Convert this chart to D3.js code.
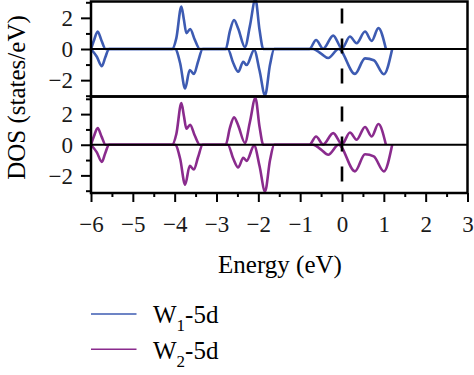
<!DOCTYPE html>
<html><head><meta charset="utf-8">
<script src="https://cdn.jsdelivr.net/npm/d3@7"></script>
<style>body{margin:0;background:#fff;}</style>
</head><body>
<svg id="chart" width="474" height="375"></svg>
<script>
// ---- data ----
const energyTicks = [-6, -5, -4, -3, -2, -1, 0, 1, 2, 3];
const energyMinorTicks = [-5.5, -4.5, -3.5, -2.5, -1.5, -0.5, 0.5, 1.5, 2.5];
const dosTicks = [-2, 0, 2];
const dosMinorTicks = [-3, -1, 1, 3];
const seriesNames = ["W1", "W2"];
const xTitle = "Energy (eV)";
const yTitle = "DOS (states/eV)";

// [energy (eV), DOS (states/eV)] -- spin up / spin down
const w1Up = [[-6.0,0],[-5.93,0.55],[-5.84,1.12],[-5.75,0.55],[-5.65,0],
  [-4.06,0],[-3.96,0.7],[-3.84,2.73],[-3.78,1.9],[-3.72,1.02],[-3.63,1.28],[-3.52,0.6],[-3.4,0],
  [-2.78,0],[-2.68,1.15],[-2.58,1.86],[-2.48,1.3],[-2.32,0.12],[-2.2,1.5],[-2.07,3.2],[-1.97,1.2],[-1.88,0],
  [-0.78,0],[-0.62,0.58],[-0.45,0.02],[-0.21,0.86],[0.0,0.03],[0.19,0.8],[0.35,0.37],[0.55,1.12],[0.71,0.52],[0.87,1.34],[1.05,0]];
const w1Down = [[-6.0,0],[-5.86,-0.5],[-5.74,-1.1],[-5.66,-0.55],[-5.57,0],
  [-3.99,0],[-3.87,-0.9],[-3.75,-2.54],[-3.64,-1.35],[-3.54,-1.61],[-3.44,-0.8],[-3.33,0],
  [-2.73,0],[-2.6,-0.9],[-2.48,-1.46],[-2.36,-0.82],[-2.28,-1.03],[-2.1,-0.06],[-1.97,-1.4],[-1.84,-2.97],[-1.72,-1.0],[-1.62,0],
  [-0.69,0],[-0.5,-0.3],[-0.33,-0.58],[-0.08,0],[0.31,-1.6],[0.55,-0.6],[0.76,-0.72],[1.0,-1.62],[1.2,0]];
const w2Up = [[-6.0,0],[-5.93,0.55],[-5.84,1.09],[-5.75,0.55],[-5.65,0],
  [-4.06,0],[-3.96,0.7],[-3.84,2.72],[-3.78,1.9],[-3.72,1.05],[-3.63,1.3],[-3.52,0.6],[-3.4,0],
  [-2.78,0],[-2.68,1.1],[-2.58,1.79],[-2.48,1.25],[-2.32,0.12],[-2.2,1.5],[-2.07,3.05],[-1.97,1.15],[-1.88,0],
  [-0.78,0],[-0.62,0.54],[-0.45,0.02],[-0.21,0.76],[0.0,0.03],[0.19,0.8],[0.35,0.33],[0.55,1.16],[0.71,0.54],[0.87,1.35],[1.05,0]];
const w2Down = [[-6.0,0],[-5.86,-0.5],[-5.74,-1.12],[-5.66,-0.55],[-5.57,0],
  [-3.99,0],[-3.87,-0.9],[-3.75,-2.61],[-3.64,-1.38],[-3.54,-1.62],[-3.44,-0.8],[-3.33,0],
  [-2.73,0],[-2.6,-0.9],[-2.48,-1.48],[-2.36,-0.85],[-2.28,-1.05],[-2.1,-0.06],[-1.97,-1.4],[-1.84,-3.05],[-1.72,-1.0],[-1.62,0],
  [-0.69,0],[-0.5,-0.32],[-0.33,-0.65],[-0.08,0],[0.31,-1.74],[0.55,-0.62],[0.76,-0.76],[1.0,-1.74],[1.2,0]];

const colors = ["#3d5bb2", "#8a2b8d"];

// ---- layout ----
const FONT = '"Times New Roman"';
const svg = d3.select("#chart");
const left = 91, right = 467.5;
const panels = [
  {name: seriesNames[0], up: w1Up, down: w1Down, color: colors[0], top: 1.5, bottom: 96.5, dom: 3.05},
  {name: seriesNames[1], up: w2Up, down: w2Down, color: colors[1], top: 96.5, bottom: 193, dom: 3.15}
];
const x = d3.scaleLinear().domain([-6, 3]).range([left, right]);
const fmt = d3.format("d");

function serif(sel, size) {
  return sel.attr("font-size", size).style("font-family", FONT);
}

panels.forEach((p, i) => {
  const y = d3.scaleLinear().domain([-p.dom, p.dom]).range([p.bottom, p.top]);
  const g = svg.append("g");
  const line = d3.line().x(d => x(d[0])).y(d => y(d[1])).curve(d3.curveMonotoneX);

  [p.up, p.down].forEach(s => {
    g.append("path").datum(s).attr("d", line)
      .attr("fill", "none").attr("stroke", p.color)
      .attr("stroke-width", 2.6).attr("stroke-linejoin", "round");
  });

  g.append("line").attr("x1", x(-6)).attr("x2", x(3)).attr("y1", y(0)).attr("y2", y(0))
    .attr("stroke", "#000").attr("stroke-width", 2.2);

  g.append("line").attr("x1", x(0)).attr("x2", x(0)).attr("y1", p.top).attr("y2", p.bottom)
    .attr("stroke", "#000").attr("stroke-width", 2.6)
    .attr("stroke-dasharray", "15,15").attr("stroke-dashoffset", i === 0 ? 23 : 20);

  const ya = g.append("g").attr("transform", `translate(${left},0)`)
    .call(d3.axisLeft(y).tickValues(dosTicks).tickSize(10).tickPadding(8).tickFormat(fmt));
  ya.attr("font-family", null).attr("font-size", null);
  ya.select(".domain").remove();
  ya.selectAll(".tick line").attr("stroke", "#000").attr("stroke-width", 2);
  serif(ya.selectAll(".tick text").attr("dy", "0.34em").attr("fill", "#1a1a1a"), 23);

  const ym = g.append("g").attr("transform", `translate(${left},0)`)
    .call(d3.axisLeft(y).tickValues(dosMinorTicks).tickSize(5).tickFormat(""));
  ym.select(".domain").remove();
  ym.selectAll(".tick line").attr("stroke", "#000").attr("stroke-width", 2);

  g.append("rect").attr("x", left).attr("y", p.top).attr("width", right - left).attr("height", p.bottom - p.top)
    .attr("fill", "none").attr("stroke", "#000").attr("stroke-width", 2.5);
});

const axisY = 193;
const xa = svg.append("g").attr("transform", `translate(0,${axisY})`)
  .call(d3.axisBottom(x).tickValues(energyTicks).tickSize(9).tickFormat(fmt));
xa.attr("font-family", null).attr("font-size", null);
xa.select(".domain").remove();
xa.selectAll(".tick line").attr("stroke", "#000").attr("stroke-width", 2);
serif(xa.selectAll(".tick text").attr("y", 39).attr("dy", null).attr("fill", "#1a1a1a"), 23);
const xm = svg.append("g").attr("transform", `translate(0,${axisY})`)
  .call(d3.axisBottom(x).tickValues(energyMinorTicks).tickSize(4).tickFormat(""));
xm.select(".domain").remove();
xm.selectAll(".tick line").attr("stroke", "#000").attr("stroke-width", 2);

serif(svg.append("text").attr("x", 280).attr("y", 272.5).attr("text-anchor", "middle"), 25).text(xTitle);
serif(svg.append("text").attr("transform", "translate(25,97.5) rotate(-90)").attr("text-anchor", "middle"), 25).text(yTitle);

const legendY = [314, 349.3];
panels.forEach((p, i) => {
  svg.append("line").attr("x1", 91).attr("x2", 136.5).attr("y1", legendY[i]).attr("y2", legendY[i])
    .attr("stroke", p.color).attr("stroke-width", 1.6);
  const t = serif(svg.append("text").attr("x", 153).attr("y", legendY[i] + 9.3), 25);
  t.append("tspan").text(p.name.charAt(0));
  t.append("tspan").attr("font-size", 17).attr("dy", 8).text(p.name.slice(1));
  t.append("tspan").attr("dy", -8).text("-5d");
});
</script>
</body></html>
